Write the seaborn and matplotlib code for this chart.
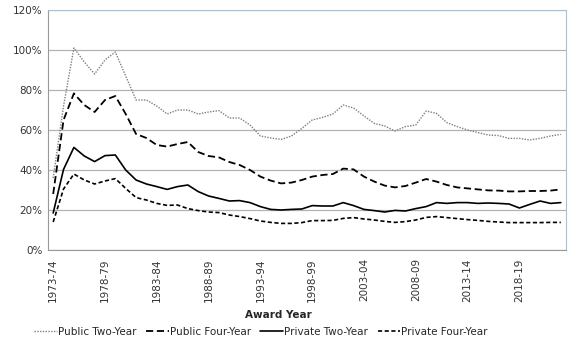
import numpy as np
import pandas as pd
import seaborn as sns
import matplotlib.pyplot as plt

# award years 1973-74 .. 2022-23
start_years = list(range(1973, 2023))
year_labels = [f"{y}-{(y + 1) % 100:02d}" for y in start_years]

public_two = [36, 72, 101, 94, 88, 95, 99, 87, 75, 75, 72, 68,
              70, 70, 68, 69, 69.7, 66, 66, 62.5, 57, 56, 55.3, 57,
              60.8, 65, 66.3, 68, 72.5, 71, 67, 63.3, 62, 59.5, 61.7, 62.5,
              69.5, 68.3, 63.7, 61.7, 60, 58.7, 57.5, 57.2, 55.8, 55.8, 55, 55.8,
              57, 57.8]
public_four = [28, 65, 78.3, 72.5, 69, 75, 77, 68, 58, 56, 52.5, 51.7,
               53, 54, 49, 47, 46.3, 44, 42.5, 40, 36.7, 34.7, 33.3, 33.7,
               35, 36.7, 37.5, 38, 40.7, 40.3, 36.7, 34.2, 32.2, 31.3, 32, 33.7,
               35.5, 34.2, 32.5, 31.3, 30.8, 30.3, 29.8, 29.7, 29.3, 29.3, 29.5, 29.5,
               29.7, 30.3]
private_two = [18.5, 40.3, 51.3, 47, 44.2, 47.2, 47.5, 40, 35, 33, 31.7, 30.3,
               31.7, 32.5, 29.2, 27, 25.8, 24.5, 24.7, 23.7, 21.7, 20.3, 20, 20.3,
               20.5, 22.2, 22, 22, 23.7, 22.2, 20.3, 19.7, 19, 19.8, 19.5, 20.7,
               21.7, 23.7, 23.3, 23.7, 23.7, 23.3, 23.5, 23.3, 23, 21, 22.8, 24.5,
               23.3, 23.7]
private_four = [14, 30.5, 38, 35, 33, 34.5, 35.7, 30.8, 26.2, 25, 23.3, 22.3,
                22.5, 20.7, 19.7, 19, 18.7, 17.5, 16.7, 15.7, 14.5, 13.8, 13.3, 13.3,
                13.7, 14.7, 14.7, 14.8, 15.8, 16.2, 15.5, 15, 14.3, 13.8, 14.2, 15,
                16.3, 16.7, 16.2, 15.7, 15.2, 14.8, 14.3, 14, 13.7, 13.7, 13.7, 13.7,
                13.8, 13.8]

series = {
    "Public Two-Year": public_two,
    "Public Four-Year": public_four,
    "Private Two-Year": private_two,
    "Private Four-Year": private_four,
}

rows = []
for name, vals in series.items():
    for i, v in enumerate(vals):
        rows.append({"idx": i, "value": v, "sector": name})
df = pd.DataFrame(rows)

sns.set_style("white")
plt.rcParams["font.family"] = ["DejaVu Sans"]

fig = plt.figure(figsize=(5.75, 3.44), dpi=100)
ax = fig.add_axes([48 / 575, 1 - 250 / 344, (566 - 48) / 575, 240 / 344])

palette = {"Public Two-Year": "#7f7f7f", "Public Four-Year": "black",
           "Private Two-Year": "black", "Private Four-Year": "black"}
dashes = {"Public Two-Year": (1, 1), "Public Four-Year": (4, 2),
          "Private Two-Year": "", "Private Four-Year": (2.5, 1.5)}
widths = {"Public Two-Year": 1.0, "Public Four-Year": 1.3,
          "Private Two-Year": 1.2, "Private Four-Year": 1.2}

for name in series:
    sub = df[df["sector"] == name]
    sns.lineplot(data=sub, x="idx", y="value", color=palette[name],
                 linewidth=widths[name], ax=ax, legend=False,
                 linestyle=(0, dashes[name]) if dashes[name] else "-")

ax.set_xlim(-0.5, 49.5)
ax.set_ylim(0, 120)
ax.set_yticks(range(0, 121, 20))
ax.set_yticklabels([f"{v}%" for v in range(0, 121, 20)], fontsize=7.5, color="#333333")
ax.yaxis.grid(True, color="#b3b3b3", linewidth=0.9)
ax.set_axisbelow(True)

ax.set_xticks(range(0, 50, 5))
ax.set_xticklabels(year_labels[::5], rotation=90, fontsize=7.5, color="#333333")
ax.set_xticks(np.arange(-0.5, 50, 1), minor=True)
ax.tick_params(axis="x", which="major", length=0, pad=6)
ax.tick_params(axis="x", which="minor", length=4, color="#999999", direction="out")
ax.tick_params(axis="y", length=0, pad=4)
ax.set_xlabel("")
ax.set_ylabel("")

for side in ["left", "bottom"]:
    ax.spines[side].set_color("#999999")
for side in ["top", "right"]:
    ax.spines[side].set_color("#a7c0e2")

fig.text(278 / 575, 1 - 315 / 344, "Award Year", ha="center", va="center",
         fontsize=7.5, fontweight="bold")

handles = []
for name in series:
    h, = ax.plot([], [], color=palette[name], linewidth=widths[name],
                 linestyle=(0, dashes[name]) if dashes[name] else "-")
    handles.append(h)
fig.legend(handles, list(series.keys()), loc="center", ncol=4,
           bbox_to_anchor=(261 / 575, 1 - 332 / 344), frameon=False,
           fontsize=7.5, handlelength=2.2, handletextpad=0.1, columnspacing=0.9)

fig.savefig("out.png", dpi=100)
